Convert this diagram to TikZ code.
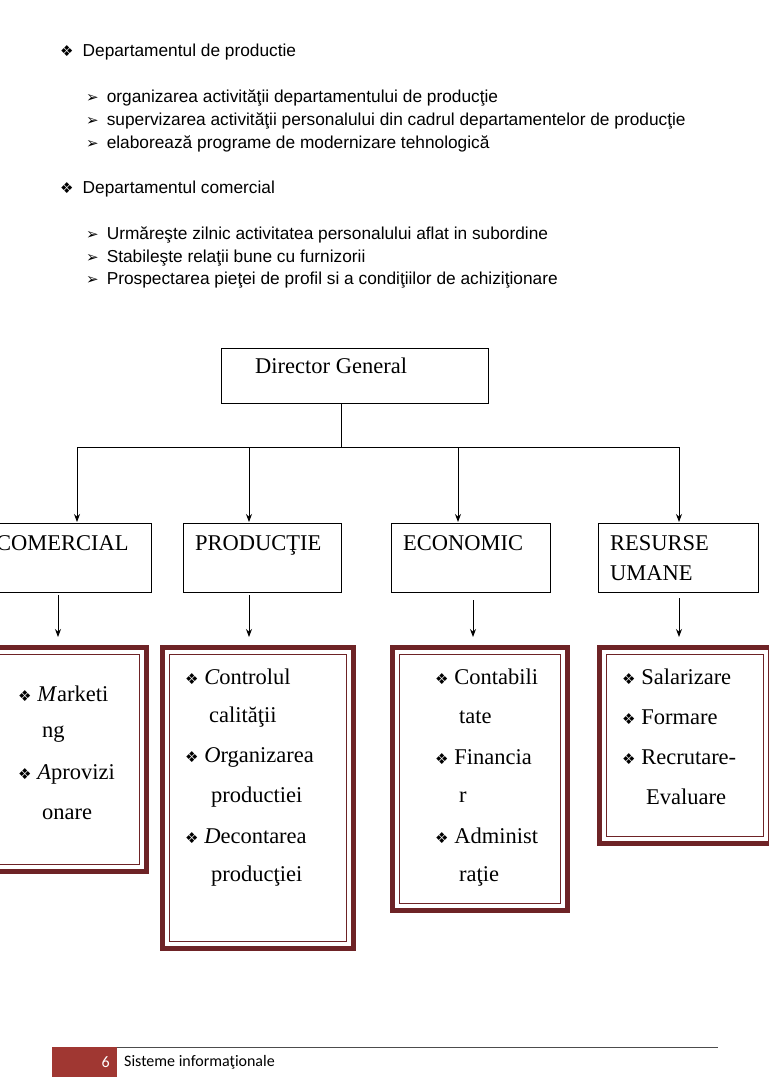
\documentclass[tikz,border=0pt]{standalone}
\usepackage{fontspec}
\setmainfont{Liberation Serif}
\newfontfamily\arialf{Liberation Sans}
\newfontfamily\symf{DejaVu Sans}
\newfontfamily\footf{Carlito}
\usetikzlibrary{arrows.meta}
\definecolor{maroon}{RGB}{110,35,38}
\definecolor{footred}{RGB}{160,55,50}
\newcommand{\dia}{{\symf\fontsize{15}{15}\selectfont ❖}}
\newcommand{\arr}{{\symf\fontsize{15}{15}\selectfont ➢}}
\tikzset{
  top/.style={anchor=west, inner sep=0pt, font=\arialf\fontsize{17.3}{18}\selectfont},
  dept/.style={draw, line width=1pt},
  ttl/.style={anchor=west, inner sep=0pt, align=left, font=\fontsize{22.5}{30}\selectfont},
  itm/.style={anchor=west, inner sep=0pt, font=\fontsize{22.5}{23}\selectfont},
  frame/.style={draw=maroon, line width=5pt},
  inframe/.style={draw=maroon, line width=1pt},
  arw/.style={-{Stealth[length=8pt,width=6pt]}, line width=0.9pt}
}
\begin{document}
\begin{tikzpicture}[x=1pt,y=-1pt]
    \useasboundingbox (0,0) rectangle (768,1086);
    % text above the chart
    \node[top] (t1) at (60,52) {\dia\hspace{9pt}Departamentul de productie};
    \node[top] (t2) at (86,98) {\arr\hspace{8pt}organizarea activităţii departamentului de producţie};
    \node[top] (t3) at (86,121) {\arr\hspace{8pt}supervizarea activităţii personalului din cadrul departamentelor de producţie};
    \node[top] (t4) at (86,144) {\arr\hspace{8pt}elaborează programe de modernizare tehnologică};
    \node[top] (t5) at (60,189) {\dia\hspace{9pt}Departamentul comercial};
    \node[top] (t6) at (86,235) {\arr\hspace{8pt}Urmăreşte zilnic activitatea personalului aflat in subordine};
    \node[top] (t7) at (86,258) {\arr\hspace{8pt}Stabileşte relaţii bune cu furnizorii};
    \node[top] (t8) at (86,280) {\arr\hspace{8pt}Prospectarea pieţei de profil si a condiţiilor de achiziţionare};
    % chart
    \draw[dept] (221,348) rectangle (488,403);
    \node[ttl] (dg) at (255,366) {Director General};
    \coordinate (dgb) at (341,403.5);
    \coordinate (hub) at (341,447);
    \coordinate (c1) at (77,447);
    \coordinate (c2) at (249,447);
    \coordinate (c3) at (458,447);
    \coordinate (c4) at (679,447);
    \coordinate (a1) at (77,522);
    \coordinate (a2) at (249,522);
    \coordinate (a3) at (458,522);
    \coordinate (a4) at (679,522);
    \draw[line width=0.9pt] (dgb) -- (hub);
    \draw[line width=0.9pt] (c1) -- (c4);
    \draw[arw] (c1) -- (a1);
    \draw[arw] (c2) -- (a2);
    \draw[arw] (c3) -- (a3);
    \draw[arw] (c4) -- (a4);
    \draw[dept] (-5,523) rectangle (151,592);
    \draw[dept] (183,523) rectangle (341,592);
    \draw[dept] (391,523) rectangle (550,592);
    \draw[dept] (598,523) rectangle (758,592);
    \node[ttl] (com) at (-4,543) {COMERCIAL};
    \node[ttl, anchor=base west] (pro) at (195,550) {PRODUCŢIE};
    \node[ttl] (eco) at (403,543) {ECONOMIC};
    \node[ttl] (ru) at (610,558) {RESURSE\\UMANE};
    \coordinate (b1) at (58,595);
    \coordinate (d1) at (58,637);
    \coordinate (b2) at (249,595);
    \coordinate (d2) at (249,637);
    \coordinate (b3) at (473,600);
    \coordinate (d3) at (473,637);
    \coordinate (b4) at (679,598);
    \coordinate (d4) at (679,637);
    \draw[arw] (b1) -- (d1);
    \draw[arw] (b2) -- (d2);
    \draw[arw] (b3) -- (d3);
    \draw[arw] (b4) -- (d4);
    % framed lists
    \draw[frame] (-5,647) rectangle (146,871);
    \draw[inframe] (-5,654) rectangle (139,864);
    \draw[frame] (162,647) rectangle (353,948);
    \draw[inframe] (169,654) rectangle (346,941);
    \draw[frame] (392,647) rectangle (567,910);
    \draw[inframe] (399,654) rectangle (560,903);
    \draw[frame] (599,647) rectangle (770,843);
    \draw[inframe] (606,654) rectangle (763,836);
    \node[itm] (m1) at (18,694) {\dia\ \textit{M}arketi};
    \node[itm] (m2) at (42,734) {ng};
    \node[itm] (m3) at (18,774) {\dia\ \textit{A}provizi};
    \node[itm] (m4) at (42,814) {onare};
    \node[itm] (p1) at (185,677) {\dia\ \textit{C}ontrolul};
    \node[itm] (p2) at (209,717) {calităţii};
    \node[itm] (p3) at (185,757) {\dia\ \textit{O}rganizarea};
    \node[itm] (p4) at (211,797) {productiei};
    \node[itm] (p5) at (185,836) {\dia\ \textit{D}econtarea};
    \node[itm] (p6) at (211,876) {producţiei};
    \node[itm] (e1) at (435,677) {\dia\ Contabili};
    \node[itm] (e2) at (459,717) {tate};
    \node[itm] (e3) at (435,757) {\dia\ Financia};
    \node[itm] (e4) at (459,797) {r};
    \node[itm] (e5) at (435,836) {\dia\ Administ};
    \node[itm] (e6) at (459,876) {raţie};
    \node[itm] (r1) at (622,677) {\dia\ Salarizare};
    \node[itm] (r2) at (622,717) {\dia\ Formare};
    \node[itm] (r3) at (622,757) {\dia\ Recrutare-};
    \node[itm] (r4) at (646,797) {Evaluare};
    % footer
    \fill[footred] (52,1047) rectangle (117,1077);
    \draw[line width=0.9pt, black!70] (117,1047) -- (718,1047);
    \node[anchor=east, inner sep=0pt, text=white, font=\footf\fontsize{16}{16}\selectfont] (pg) at (110,1062) {6};
    \node[anchor=west, inner sep=0pt, font=\footf\fontsize{16}{16}\selectfont] (ft) at (124,1062) {Sisteme informaţionale};
\end{tikzpicture}
\end{document}
